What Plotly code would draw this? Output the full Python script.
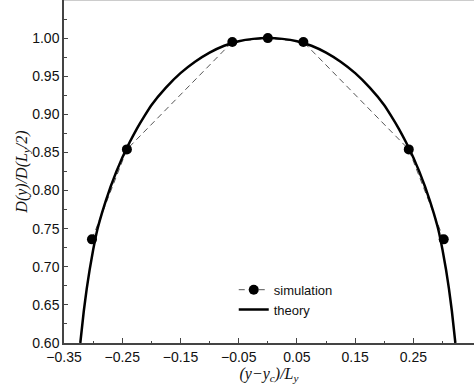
import plotly.graph_objects as go

# simulation points
sim_x = [-0.302, -0.242, -0.061, 0.0, 0.061, 0.242, 0.302]
sim_y = [0.736, 0.854, 0.995, 1.0, 0.995, 0.854, 0.736]

# theory curve
theory_x = [-0.322, -0.316, -0.311, -0.306, -0.300, -0.293, -0.285, -0.278, -0.270, -0.260,
            -0.250, -0.2375, -0.225, -0.2125, -0.200, -0.175, -0.150, -0.125,
            -0.100, -0.075, -0.050, -0.025, 0.0,
            0.025, 0.050, 0.075, 0.100, 0.125, 0.150, 0.175, 0.200,
            0.2125, 0.225, 0.2375, 0.250, 0.260, 0.270, 0.278, 0.285, 0.293, 0.300,
            0.306, 0.311, 0.316, 0.322]
theory_y = [0.600, 0.642, 0.671, 0.696, 0.722, 0.748, 0.770, 0.787, 0.805, 0.825,
            0.843, 0.863, 0.881, 0.897, 0.912, 0.935, 0.954, 0.969,
            0.981, 0.990, 0.996, 0.999, 1.000,
            0.999, 0.996, 0.990, 0.981, 0.969, 0.954, 0.935, 0.912,
            0.897, 0.881, 0.863, 0.843, 0.825, 0.805, 0.787, 0.770, 0.748, 0.722,
            0.696, 0.671, 0.642, 0.600]

x_tickvals = [-0.35, -0.25, -0.15, -0.05, 0.05, 0.15, 0.25]
x_ticktext = ["\u22120.35", "\u22120.25", "\u22120.15", "\u22120.05", "0.05", "0.15", "0.25"]
x_minorvals = [-0.3, -0.2, -0.1, 0.0, 0.1, 0.2, 0.3]
y_tickvals = [0.60, 0.65, 0.70, 0.75, 0.80, 0.85, 0.90, 0.95, 1.00]
y_ticktext = ["0.60", "0.65", "0.70", "0.75", "0.80", "0.85", "0.90", "0.95", "1.00"]
y_minorvals = [0.625, 0.675, 0.725, 0.775, 0.825, 0.875, 0.925, 0.975, 1.025]

fig = go.Figure()
fig.add_trace(go.Scatter(
    x=sim_x, y=sim_y, mode="lines+markers", name="simulation",
    line=dict(color="#555555", width=1, dash="6px,4px"),
    marker=dict(color="black", size=10),
))
fig.add_trace(go.Scatter(
    x=theory_x, y=theory_y, mode="lines", name="theory",
    line=dict(color="black", width=2.5, shape="spline", smoothing=0.3),
))

axis_font = dict(family="Liberation Sans, Arial, sans-serif", size=14, color="#111111")
title_font = dict(family="Liberation Serif, Times New Roman, serif", size=16, color="#111111")
fig.update_layout(
    width=474, height=388,
    margin=dict(l=64, r=0, t=0, b=45, autoexpand=False),
    paper_bgcolor="white", plot_bgcolor="white",
    showlegend=True,
    legend=dict(x=0.414, y=0.199, xanchor="left", yanchor="top",
                font=dict(family="Liberation Sans, Arial, sans-serif", size=13, color="#111111"),
                bgcolor="rgba(0,0,0,0)", tracegroupgap=0, itemwidth=30),
    font=axis_font,
)
fig.update_xaxes(
    range=[-0.35, 0.354], showgrid=False, zeroline=False, automargin=False,
    showline=True, linecolor="#444444", linewidth=1.5,
    tickmode="array", tickvals=x_tickvals, ticktext=x_ticktext,
    ticks="inside", ticklen=5, tickcolor="#444444", tickwidth=1,
    minor=dict(tickmode="array", tickvals=x_minorvals,
               ticks="inside", ticklen=2, tickcolor="#444444"),
    tickfont=axis_font,
    title=dict(text="<i>(y\u2212y<sub>c</sub>)/L<sub>y</sub></i>", font=title_font, standoff=0),
)
fig.update_yaxes(
    range=[0.6, 1.05], showgrid=False, zeroline=False, automargin=False,
    showline=True, linecolor="#444444", linewidth=1.5,
    tickmode="array", tickvals=y_tickvals, ticktext=y_ticktext,
    ticks="inside", ticklen=4, tickcolor="#444444", tickwidth=1,
    minor=dict(tickmode="array", tickvals=y_minorvals,
               ticks="inside", ticklen=3, tickcolor="#444444"),
    tickfont=axis_font,
    title=dict(text="<i>D(y)/D(L<sub>y</sub>/2)</i>", font=title_font, standoff=0),
)
fig.add_shape(type="line", xref="paper", yref="paper", x0=0, x1=1, y0=1, y1=1,
              line=dict(color="#cccccc", width=2))
fig.write_html("out.html", config={"displayModeBar": False},
               post_script="document.body.style.margin='0';document.body.style.overflow='hidden';")
